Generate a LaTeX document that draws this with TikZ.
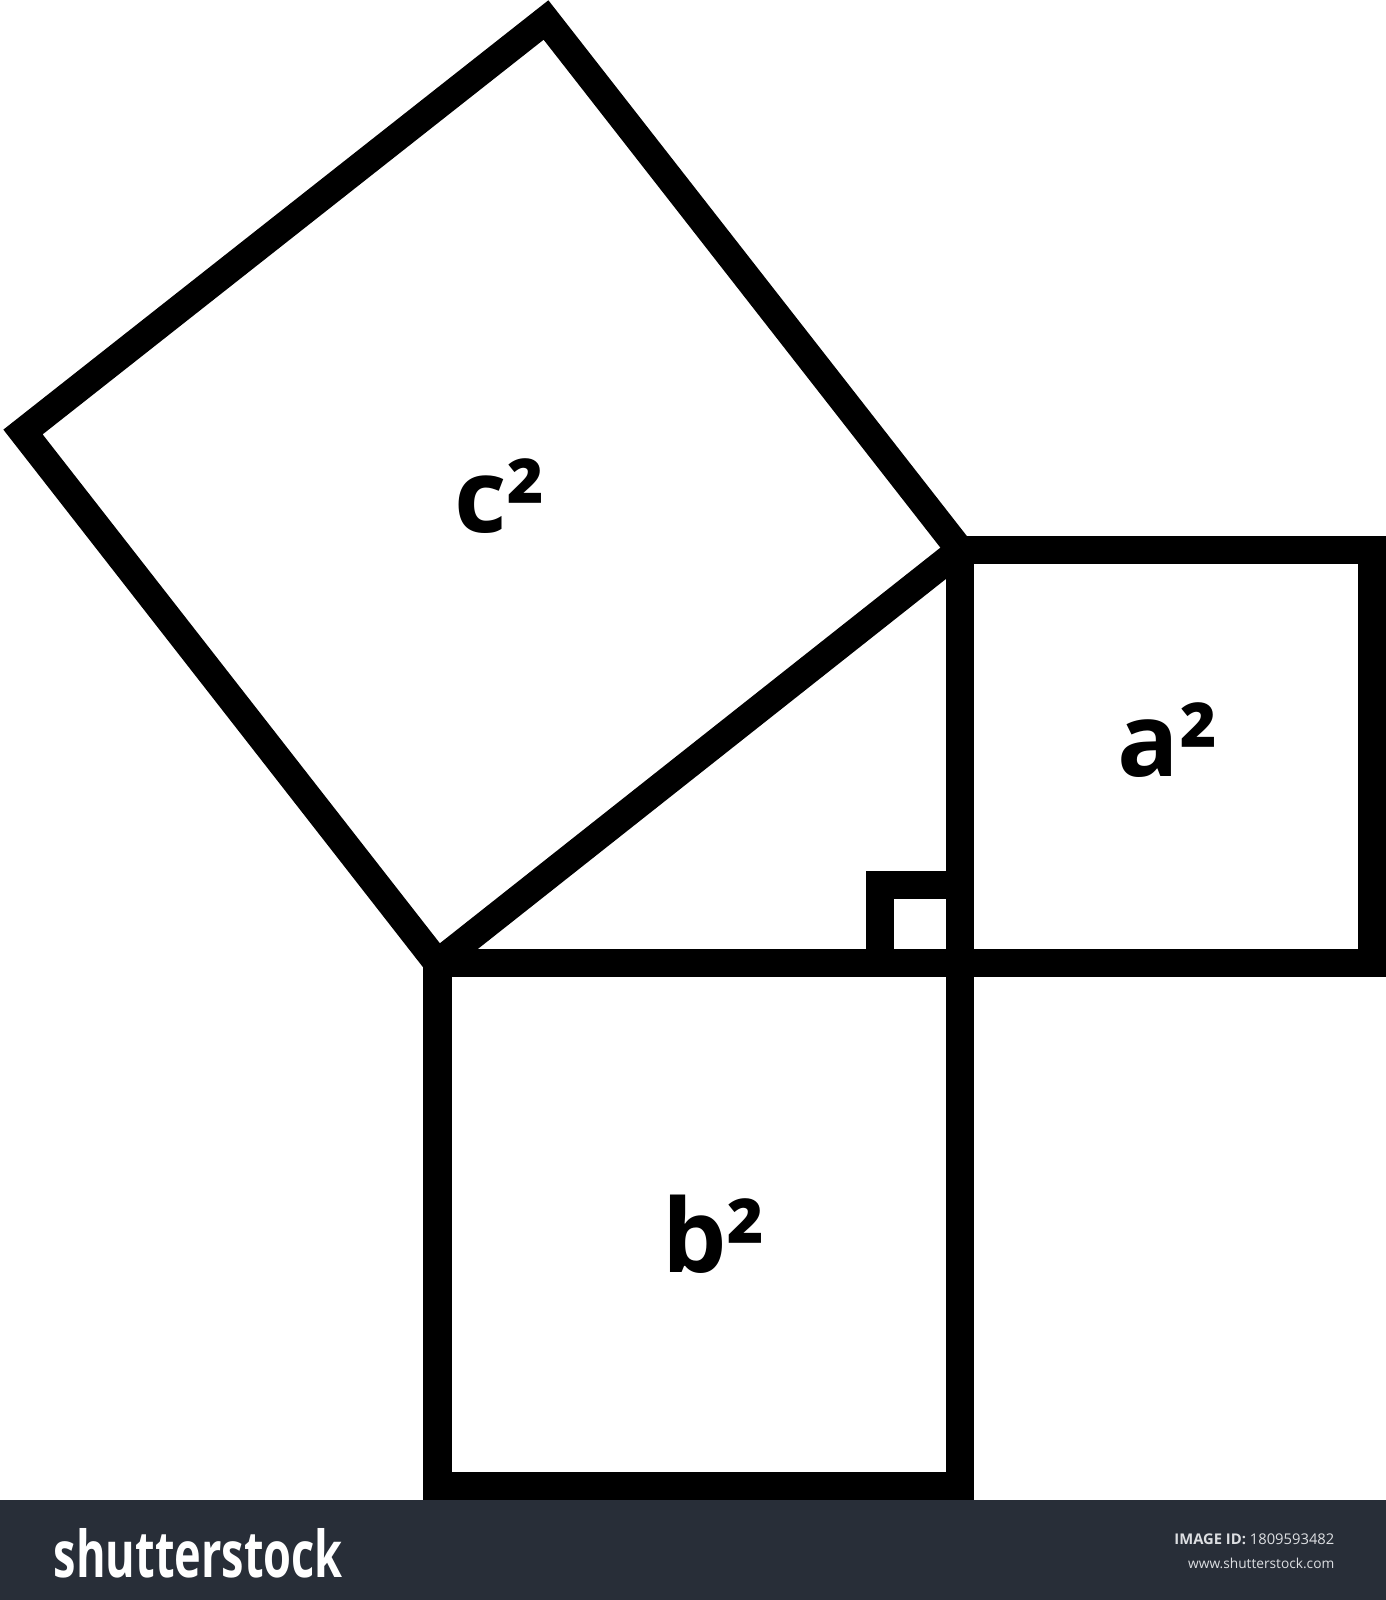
\documentclass[tikz,border=0pt]{standalone}
\usepackage{fontspec}
\setmainfont{Open Sans}
\usepackage{graphicx}
\definecolor{banner}{HTML}{282E38}
\definecolor{bannertext}{HTML}{DDDFE2}
\begin{document}
\begin{tikzpicture}[x=0.01cm,y=-0.01cm,
  edge/.style={line width=0.28cm, line join=miter, draw=black},
  sqlabel/.style={inner sep=0pt, anchor=base, font=\fontsize{29}{35}\selectfont\bfseries},
  bantext/.style={inner sep=0pt, anchor=base east, text=bannertext}]
\useasboundingbox (0,0) rectangle (1386,1600);
\fill[white] (0,0) rectangle (1386,1600);
% vertices
\coordinate (C) at (960,963);
\coordinate (B) at (437.5,963);
\coordinate (A) at (960,550);
\coordinate (P) at (23,432);
\coordinate (Q) at (546,20);
\coordinate (Aout) at (1371.5,963);
\coordinate (Bout) at (960,1485.5);
\coordinate (M1) at (879.5,963);
\coordinate (M2) at (960,884.5);
% squares
\draw[edge] (B) -- (A) -- (Q) -- (P) -- cycle;
\draw[edge] (A) rectangle (Aout);
\draw[edge] (B) rectangle (Bout);
\draw[edge] (M1) |- (M2);
% labels
\node[sqlabel] (lc) at (500,532) {c²};
\node[sqlabel] (la) at (1168,776) {a²};
\node[sqlabel] (lb) at (714,1272) {b²};
% banner
\fill[banner] (0,1500) rectangle (1386,1600);
\node[inner sep=0pt, anchor=base west, text=white] (logo) at (53,1577)
  {\resizebox{2.89cm}{0.49cm}{\bfseries shutterstock}};
\node[bantext] (imgid) at (1335,1544)
  {\fontsize{4.2}{5}\selectfont{\bfseries IMAGE ID:} 1809593482};
\node[bantext] (url) at (1335,1568)
  {\fontsize{3.9}{5}\selectfont www.shutterstock.com};
\end{tikzpicture}
\end{document}
